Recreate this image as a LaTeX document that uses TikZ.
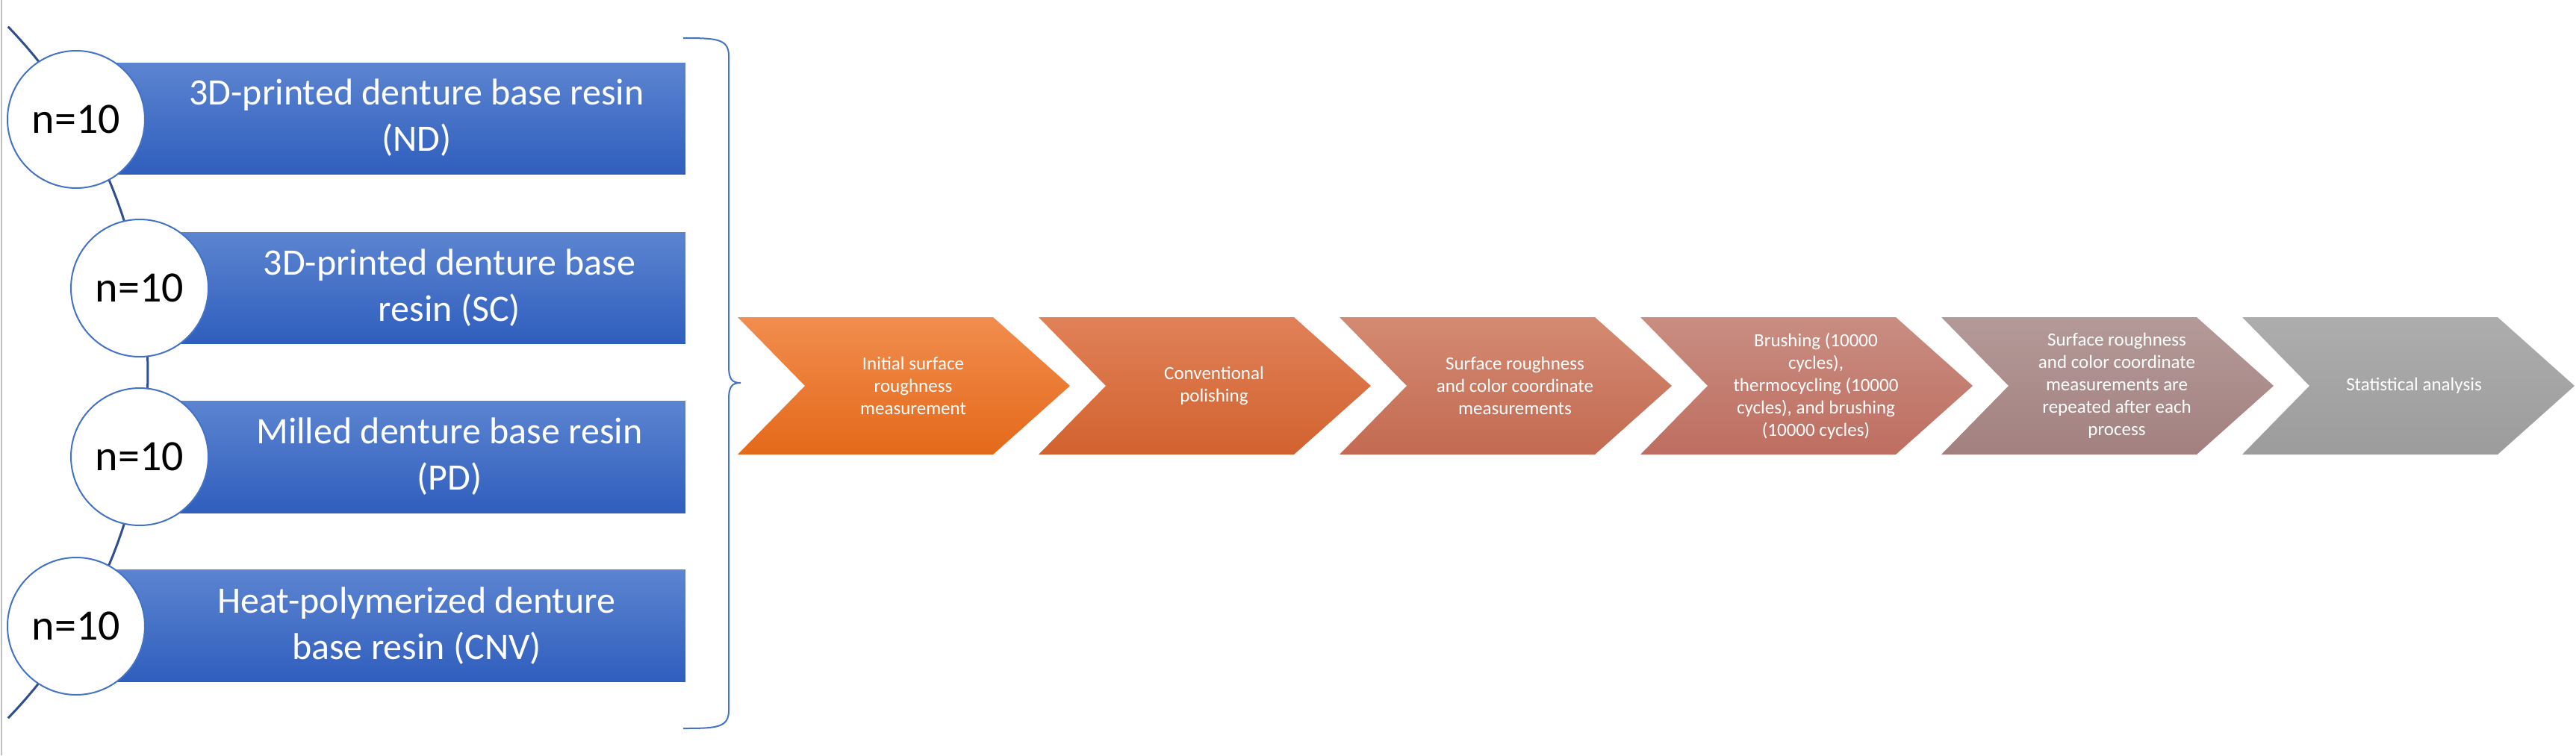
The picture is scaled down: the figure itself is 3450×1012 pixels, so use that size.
\documentclass[tikz,border=0pt]{standalone}
\usepackage{fontspec}
\setmainfont{Carlito}
\begin{document}
\begin{tikzpicture}[x=1pt,y=-1pt,
  rect/.style={draw=none,top color=blue1,bottom color=blue2},
  circ/.style={circle,draw=cborder,line width=2pt,fill=white,minimum size=184pt,inner sep=0pt,font=\fontsize{58}{64}\selectfont},
  rtxt/.style={text=white,align=center,font=\fontsize{50}{62}\selectfont},
  ctxt/.style={text=white,align=center,font=\fontsize{25}{30}\selectfont}]
\definecolor{blue1}{HTML}{5C84D0}
\definecolor{blue2}{HTML}{2F5EBD}
\definecolor{cborder}{HTML}{4472C4}
\definecolor{arcc}{HTML}{2F4F8F}
\useasboundingbox (0,0) rectangle (3450,1012);
\draw[gray!50,line width=2pt] (2,0) -- (2,1012);
% arc connector
\draw[arcc,line width=3pt] plot[domain=-44:44,samples=60] ({-469+667*cos(\x)},{499+667*sin(\x)});
% rectangles
\fill[rect] (102,84) rectangle (918,233);
\fill[rect] (187,311) rectangle (918,460);
\fill[rect] (187,537) rectangle (918,687);
\fill[rect] (102,763) rectangle (918,913);
\node[circ] (c1) at (102,160) {n=10};
\node[circ] (c2) at (187,386) {n=10};
\node[circ] (c3) at (187,612) {n=10};
\node[circ] (c4) at (102,839) {n=10};
\node[rtxt] (t1) at (558,158) {3D-printed denture base resin\\(ND)};
\node[rtxt] (t2) at (602,386) {3D-printed denture base\\resin (SC)};
\node[rtxt] (t3) at (602,612) {Milled denture base resin\\(PD)};
\node[rtxt] (t4) at (558,839) {Heat-polymerized denture\\base resin (CNV)};
% brace
\draw[cborder,line width=2pt] (915,51) .. controls (960,51) and (976,52) .. (976,75) -- (976,490) .. controls (976,508) and (980,513) .. (992,513) .. controls (980,513) and (976,518) .. (976,536) -- (976,952) .. controls (976,975) and (960,976) .. (915,976);
% chevrons
\foreach \i/\ct/\cb in {0/F18D4E/E4691A,1/E08158/D2622F,2/D48A72/C36A52,3/C98D82/BE6E60,4/B39A98/A38080,5/ADADAD/9C9C9C}{
  \pgfmathsetmacro{\L}{988+403*\i}
  \definecolor{ctop}{HTML}{\ct}\definecolor{cbot}{HTML}{\cb}
  \shade[top color=ctop,bottom color=cbot] (\L,425) -- (\L+342,425) -- (\L+445,517) -- (\L+342,609) -- (\L,609) -- (\L+90,517) -- cycle;
}
\node[ctxt] (s1) at (1223,517) {Initial surface\\roughness\\measurement};
\node[ctxt] (s2) at (1626,517) {Conventional\\polishing};
\node[ctxt] (s3) at (2029,517) {Surface roughness\\and color coordinate\\measurements};
\node[ctxt] (s4) at (2432,517) {Brushing (10000\\cycles),\\thermocycling (10000\\cycles), and brushing\\(10000 cycles)};
\node[ctxt] (s5) at (2835,517) {Surface roughness\\and color coordinate\\measurements are\\repeated after each\\process};
\node[ctxt] (s6) at (3233,517) {Statistical analysis};
\end{tikzpicture}
\end{document}
